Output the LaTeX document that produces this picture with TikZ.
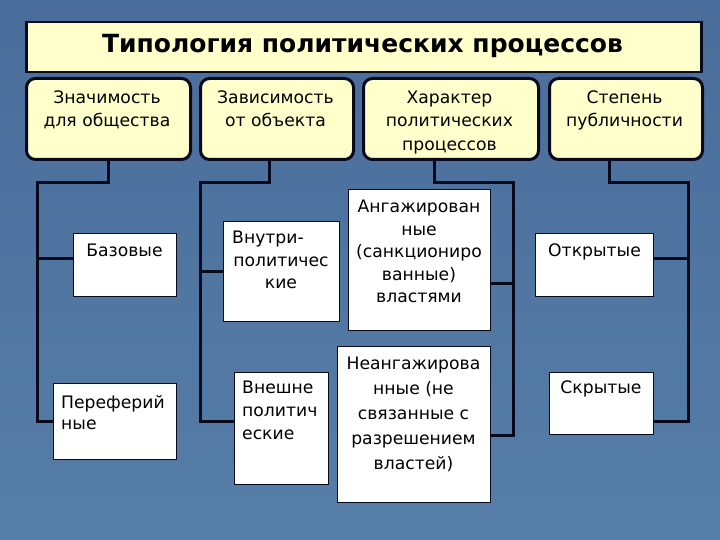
\documentclass[tikz,border=0pt]{standalone}
\usepackage{fontspec}
\setmainfont{DejaVu Sans}
\usetikzlibrary{calc}
\definecolor{bgtop}{RGB}{74,108,154}
\definecolor{bgbot}{RGB}{86,126,168}
\definecolor{ylw}{RGB}{255,255,204}
\definecolor{lin}{RGB}{8,10,28}
\tikzset{
  titlebox/.style={draw=lin, line width=2.5pt, fill=ylw},
  catbox/.style={draw=lin, line width=3pt, fill=ylw, rounded corners=9pt},
  leafbox/.style={draw=lin, line width=1.3pt, fill=white},
  txt/.style={inner sep=0pt, anchor=north, align=center, font=\fontsize{17.2}{23.5}\selectfont},
  ltxt/.style={inner sep=0pt, anchor=north west, align=left, font=\fontsize{17.2}{22.5}\selectfont},
  conn/.style={draw=lin, line width=3pt},
}
\begin{document}
\begin{tikzpicture}[x=1pt,y=-1pt]
\useasboundingbox (0,0) rectangle (720,540);
\shade[top color=bgtop, bottom color=bgbot] (0,0) rectangle (720,540);

% title
\node[titlebox, minimum width=675pt, minimum height=50pt, anchor=north west] (title) at (25,21) {};
\node[inner sep=0pt, font=\fontsize{25}{30}\selectfont\bfseries] (ttl) at (362.5,45.5) {Типология политических процессов};

% category boxes
\node[catbox, minimum width=164pt, minimum height=81pt, anchor=north west] (b1) at (25,77) {};
\node[catbox, minimum width=153pt, minimum height=81pt, anchor=north west] (b2) at (199,77) {};
\node[catbox, minimum width=175pt, minimum height=81pt, anchor=north west] (b3) at (362,77) {};
\node[catbox, minimum width=153pt, minimum height=81pt, anchor=north west] (b4) at (548,77) {};
\node[txt] (t1) at (107,90.5) {Значимость\\для общества};
\node[txt] (t2) at (275.5,90.5) {Зависимость\\от объекта};
\node[txt] (t3) at (449.5,90.5) {Характер\\политических\\процессов};
\node[txt] (t4) at (624.5,90.5) {Степень\\публичности};

% leaf boxes
\node[leafbox, minimum width=103pt, minimum height=63pt, anchor=north west] (bas) at (73,233) {};
\node[leafbox, minimum width=123pt, minimum height=76pt, anchor=north west] (per) at (53,383) {};
\node[leafbox, minimum width=116pt, minimum height=100pt, anchor=north west] (vnu) at (223,221) {};
\node[leafbox, minimum width=94pt, minimum height=112pt, anchor=north west] (vne) at (234,372) {};
\node[leafbox, minimum width=142pt, minimum height=141pt, anchor=north west] (ang) at (348,189) {};
\node[leafbox, minimum width=153pt, minimum height=156pt, anchor=north west] (nea) at (337,346) {};
\node[leafbox, minimum width=118pt, minimum height=63pt, anchor=north west] (otk) at (535,233) {};
\node[leafbox, minimum width=104pt, minimum height=62pt, anchor=north west] (skr) at (549,372) {};

\node[txt] (tbas) at (124.5,244) {Базовые};
\node[ltxt, font=\fontsize{17.2}{21}\selectfont] (tper) at (61,395) {Переферий\\ные};
\node[txt, font=\fontsize{17.2}{22.5}\selectfont] (tvnu) at (281,231) {Внутри-\hspace*{26pt}\\политичес\\кие};
\node[ltxt, font=\fontsize{17.2}{23}\selectfont] (tvne) at (242,380.5) {Внешне\\политич\\еские};
\node[txt, font=\fontsize{17.2}{22.5}\selectfont] (tang) at (419,200) {Ангажирован\\ные\\(санкциониро\\ванные)\\властями};
\node[txt, font=\fontsize{17.2}{25}\selectfont] (tnea) at (413.5,356.5) {Неангажирова\\нные (не\\связанные с\\разрешением\\властей)};
\node[txt] (totk) at (594.5,244) {Открытые};
\node[txt] (tskr) at (601,381) {Скрытые};

% bus corners
\coordinate (v1) at (37,183);
\coordinate (v2) at (200,183);
\coordinate (v3) at (513,183);
\coordinate (v4) at (688,183);

\draw[conn] (b1.south) |- (v1) |- (per.west);
\draw[conn] (v1 |- 0,258) -- (bas.west |- 0,258);
\draw[conn] ([xshift=-7.5pt]b2.south) |- (v2) |- (vne.west |- 0,421);
\draw[conn] (v2 |- vnu.west) -- (vnu.west);
\draw[conn] ([xshift=-16.5pt]b3.south) |- (v3) |- (nea.east |- 0,435);
\draw[conn] (v3 |- 0,283) -- (ang.east |- 0,283);
\draw[conn] ([xshift=-16.5pt]b4.south) |- (v4) |- (skr.east |- 0,421);
\draw[conn] (v4 |- 0,258) -- (otk.east |- 0,258);
\end{tikzpicture}
\end{document}
